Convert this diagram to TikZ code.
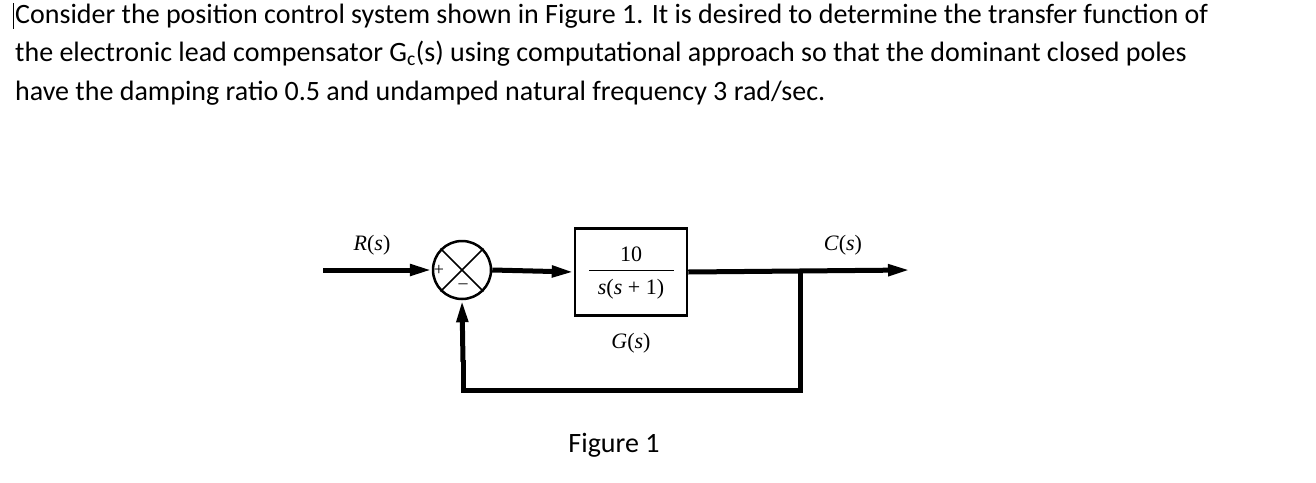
\documentclass[tikz,border=0pt]{standalone}
\usepackage{fontspec}
\setmainfont{Carlito}
\newfontfamily\tms{Liberation Serif}
\usetikzlibrary{arrows.meta}
\begin{document}
\begin{tikzpicture}[x=1pt,y=-1pt,
  sig/.style={line width=5pt},
  arr/.style={sig,-{Triangle[length=22pt,width=11pt]}},
  lbl/.style={font=\tms\fontsize{22}{24}\selectfont},
  txt/.style={font=\fontsize{28}{30}\selectfont,anchor=west,inner sep=0}]
\useasboundingbox[fill=white] (0,0) rectangle (1316,482);
\node[txt] (l1) at (15,16) {Consider the position control system shown in Figure 1. It is desired to determine the transfer function of};
\node[txt] (l2) at (15,54) {the electronic lead compensator G\textsubscript{c}(s) using computational approach so that the dominant closed poles};
\node[txt] (l3) at (15,93) {have the damping ratio 0.5 and undamped natural frequency 3 rad/sec.};
\draw[line width=1pt] (13,3) -- (13,29);
\node[circle,draw,line width=2.5pt,minimum size=58pt,inner sep=0] (sum) at (462,270) {};
\draw[line width=1.5pt] (sum.north west) -- (sum.south east) (sum.north east) -- (sum.south west);
\node[lbl,font=\tms\fontsize{18}{20}\selectfont] (plus) at (439,270) {+};
\node[lbl,font=\tms\fontsize{18}{20}\selectfont] (minus) at (463,286) {\textendash};
\node[draw,line width=2.5pt,minimum width=112pt,minimum height=87pt,inner sep=0] (G) at (631,272) {};
\node[lbl] (num) at (631,254) {10};
\draw[line width=0.8pt] (589,270) -- (674,270);
\node[lbl] (den) at (631,289) {\textit{s}(\textit{s} + 1)};
\node[lbl] (Gs) at (631,343) {\textit{G}(\textit{s})};
\node[lbl] (Rs) at (372,245) {\textit{R}(\textit{s})};
\node[lbl] (Cs) at (843,245) {\textit{C}(\textit{s})};
\coordinate (in) at (323,270);
\coordinate (out) at (910,270);
\coordinate (br) at (800,270);
\coordinate (b1) at (800,390);
\coordinate (b2) at (463,390);
\draw[arr] (in) -- (sum.west);
\draw[arr] (sum.east) -- (G.west);
\draw[arr] (G.east) -- (out);
\draw[sig,line join=miter] (br) -- (b1) -- (b2) -- (463,360);
\draw[arr] (463,362) -- (sum.south);
\node[font=\fontsize{28}{30}\selectfont] (fig) at (614,445) {Figure 1};
\end{tikzpicture}
\end{document}
